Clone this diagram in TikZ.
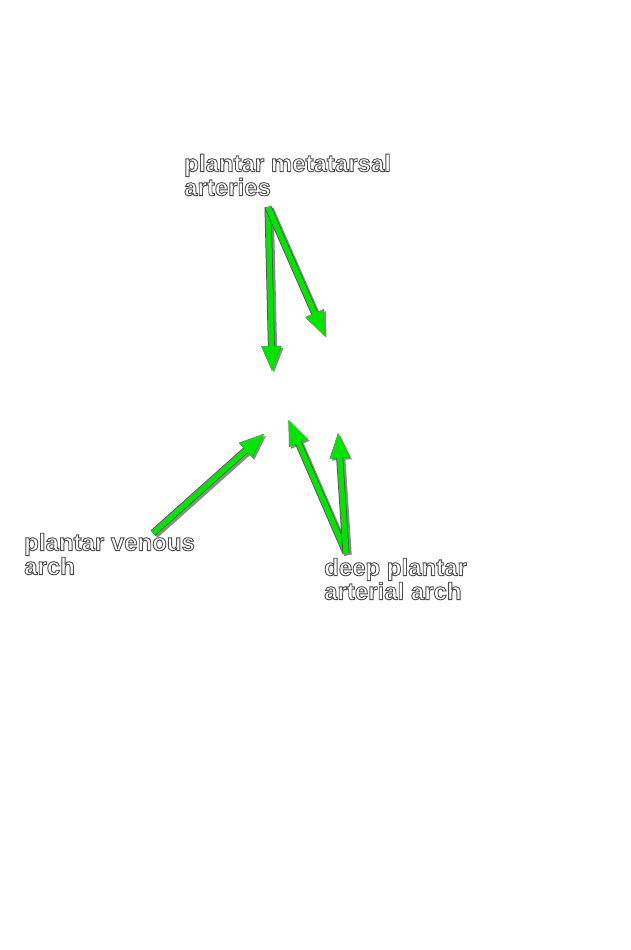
\documentclass[tikz,border=0pt]{standalone}
\usepackage{fontspec}
\setmainfont{Liberation Sans}
\usetikzlibrary{arrows.meta,positioning}
\tikzset{>={Triangle[length=26pt,width=18pt]},
  pointer/.style={->,draw=green!90!black,line width=5.5pt,
    preaction={draw=black!45,line width=7.5pt,transform canvas={shift={(2pt,-2pt)}}},
    preaction={draw=black!70,line width=7pt}},
  labeltext/.style={anchor=north west,align=left,inner sep=0pt,
    font=\bfseries\fontsize{24}{24}\selectfont,text=white}}
\newcommand{\shadowed}[1]{\special{pdf:literal direct 2 Tr 0.9 w 0.3 G}#1\special{pdf:literal direct 0 Tr}}

\begin{document}
\begin{tikzpicture}[x=1pt,y=-1pt]
    \useasboundingbox[fill=white] (0,0) rectangle (631,950);

    % labels
    \node[labeltext] (l1) at (184,154) {\shadowed{plantar metatarsal}\\\shadowed{arteries}};
    \node[labeltext] (l2) at (24,533) {\shadowed{plantar venous}\\\shadowed{arch}};
    \node[labeltext] (l3) at (324,558) {\shadowed{deep plantar}\\\shadowed{arterial arch}};

    % arrow ends
    \coordinate (a1) at (268,207);
    \coordinate (t1) at (272,372);
    \coordinate (t2) at (325,337);
    \coordinate (a2) at (153,533);
    \coordinate (t3) at (265,433);
    \coordinate (a3) at (346,553);
    \coordinate (t4) at (288,419);
    \coordinate (t5) at (338,432);

    \draw[pointer] (a1) -- (t1);
    \draw[pointer] (a1) -- (t2);
    \draw[pointer] (a2) -- (t3);
    \draw[pointer] (a3) -- (t4);
    \draw[pointer] (a3) -- (t5);
\end{tikzpicture}
\end{document}
